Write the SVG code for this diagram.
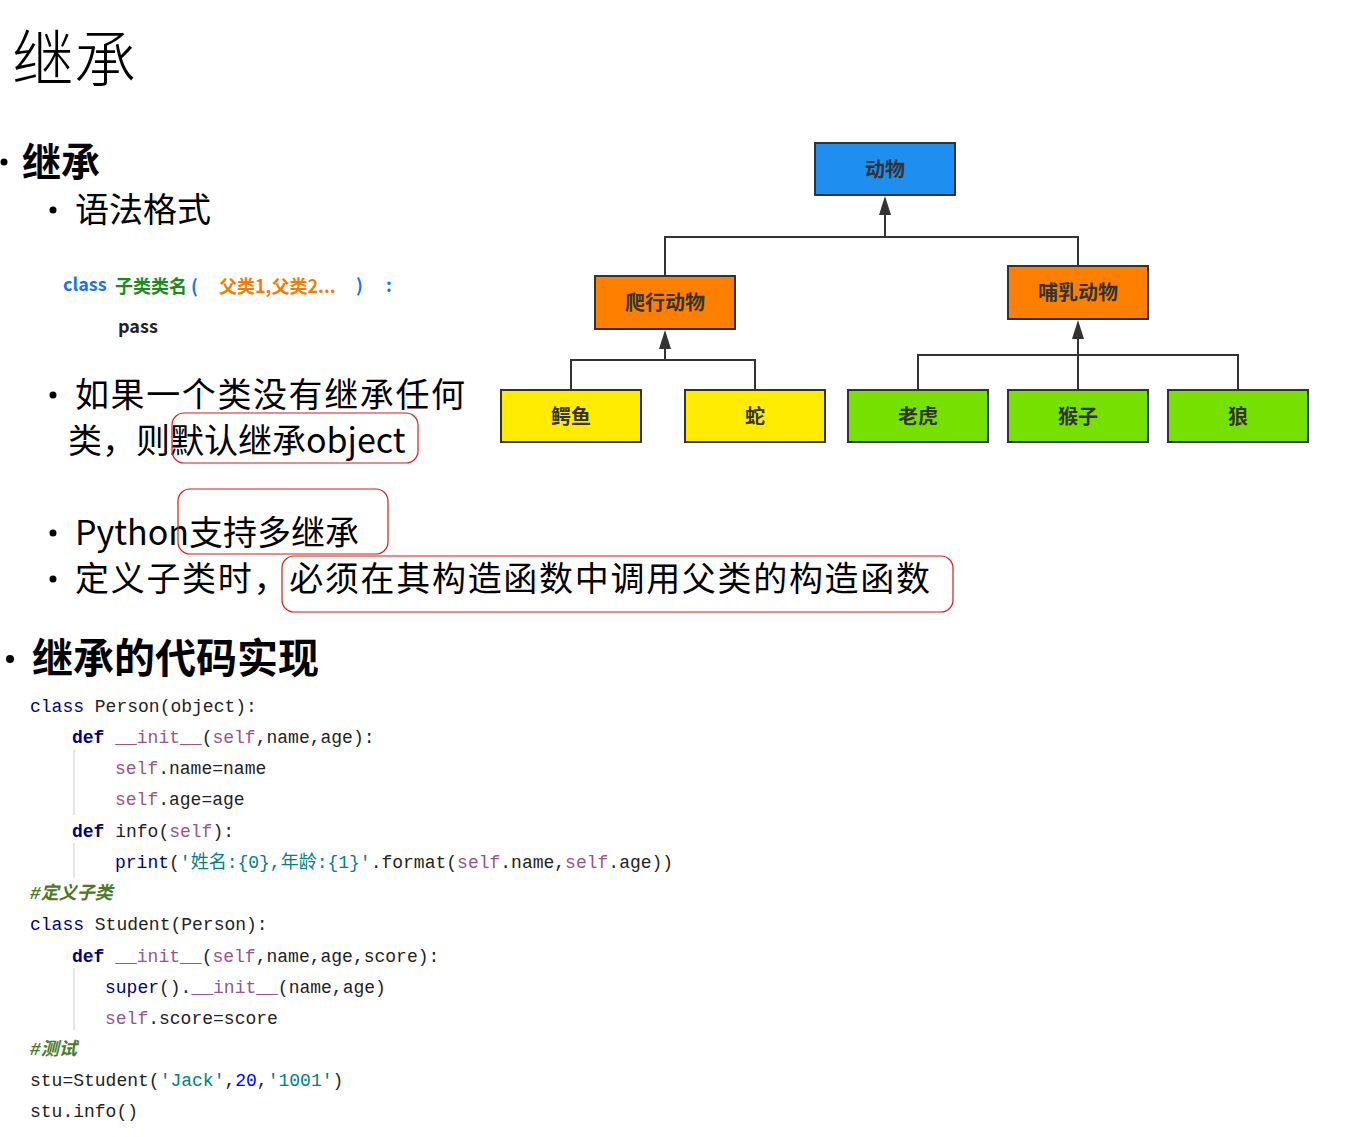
<svg xmlns="http://www.w3.org/2000/svg" width="1371" height="1137" viewBox="0 0 1371 1137">
<defs>
<style>
.t{font-family:"Noto Sans CJK SC","Noto Sans",sans-serif;fill:#000}
.b{stroke:#333;stroke-width:2}
.n{font-family:"Noto Sans CJK SC",sans-serif;font-size:20px;font-weight:bold;fill:#333;text-anchor:middle}
.c{font-family:"Liberation Mono","Noto Sans CJK SC",monospace;font-size:18px;fill:#222}
.kw{fill:#000080}
.sf{fill:#94558d}
.st{fill:#008080}
.cm{fill:#4a7a25;font-style:italic;font-weight:bold}
.ln{fill:none;stroke:#333;stroke-width:2}
.ah{fill:#333}
.red{fill:none;stroke:#d81b1b;stroke-width:1.2}
.gd{stroke:#ccc;stroke-width:1}
</style>
</defs>
<rect width="1371" height="1137" fill="#fff"/>
<text class="t" x="12" y="82" font-size="62" font-weight="300">继承</text>
<circle cx="4" cy="162" r="3.5" fill="#000"/>
<text class="t" x="22" y="176" font-size="39" font-weight="bold">继承</text>
<g fill="#000">
<circle cx="53" cy="210" r="3.5"/><circle cx="53" cy="395" r="3.5"/><circle cx="53" cy="533" r="3.5"/><circle cx="53" cy="579" r="3.5"/>
<circle cx="10" cy="659" r="4"/>
</g>
<g class="t" font-size="34">
<text x="75" y="222">语法格式</text>
<text x="75" y="407" textLength="390">如果一个类没有继承任何</text>
<text x="68" y="453">类，则默认继承object</text>
<text x="75" y="545">Python支持多继承</text>
<text x="75" y="591" textLength="855">定义子类时，必须在其构造函数中调用父类的构造函数</text>
</g>
<g font-family="Noto Sans CJK SC,sans-serif" font-weight="bold" font-size="18">
<text x="63" y="291" fill="#1a73e8">class</text>
<text x="115" y="293" fill="#1e8a1e">子类类名 <tspan fill="#1a73e8">(</tspan></text>
<text x="219" y="293" fill="#f57c00">父类1,父类2...</text>
<text x="356" y="292" fill="#1a73e8">)</text>
<text x="386" y="292" fill="#1a73e8">:</text>
<text x="118" y="333" fill="#222">pass</text>
</g>
<rect class="red" x="172" y="413" width="246" height="50" rx="12"/>
<rect class="red" x="178" y="489" width="210" height="65" rx="12"/>
<rect class="red" x="282" y="556" width="671" height="56" rx="12"/>
<text class="t" x="32" y="673" font-size="41" font-weight="bold">继承的代码实现</text>

<g id="connectors">
<path class="ln" d="M885,237 V210"/><polygon class="ah" points="885,196 879,215 891,215"/>
<path class="ln" d="M665,276 V237 H1078 V266"/>
<path class="ln" d="M665,360 V344"/><polygon class="ah" points="665,330 659,349 671,349"/>
<path class="ln" d="M571,390 V360 H755 V390"/>
<path class="ln" d="M1078,355 V334"/><polygon class="ah" points="1078,320 1072,339 1084,339"/>
<path class="ln" d="M918,390 V355 H1238 V390 M1078,355 V390"/>
</g>
<g id="n1"><rect class="b" x="815" y="143" width="140" height="52" fill="#1e8ff0"/><text class="n" x="885" y="177">动物</text></g>
<g id="n2"><rect class="b" x="595" y="276" width="140" height="53" fill="#ff7f00"/><text class="n" x="665" y="310">爬行动物</text></g>
<g id="n3"><rect class="b" x="1008" y="266" width="140" height="53" fill="#ff7f00"/><text class="n" x="1078" y="300">哺乳动物</text></g>
<g id="n4"><rect class="b" x="501" y="390" width="140" height="52" fill="#ffec00"/><text class="n" x="571" y="424">鳄鱼</text></g>
<g id="n5"><rect class="b" x="685" y="390" width="140" height="52" fill="#ffec00"/><text class="n" x="755" y="424">蛇</text></g>
<g id="n6"><rect class="b" x="848" y="390" width="140" height="52" fill="#76e000"/><text class="n" x="918" y="424">老虎</text></g>
<g id="n7"><rect class="b" x="1008" y="390" width="140" height="52" fill="#76e000"/><text class="n" x="1078" y="424">猴子</text></g>
<g id="n8"><rect class="b" x="1168" y="390" width="140" height="52" fill="#76e000"/><text class="n" x="1238" y="424">狼</text></g>

<g>
<line class="gd" x1="74" y1="750" x2="74" y2="815"/>
<line class="gd" x1="74" y1="843" x2="74" y2="878"/>
<line class="gd" x1="74" y1="968" x2="74" y2="1030"/>
<text class="c" x="30" y="712"><tspan class="kw">class</tspan> Person(object):</text>
<text class="c" x="72" y="743"><tspan class="kw" font-weight="bold">def</tspan> <tspan class="sf">__init__</tspan>(<tspan class="sf">self</tspan>,name,age):</text>
<text class="c" x="115" y="774"><tspan class="sf">self</tspan>.name=name</text>
<text class="c" x="115" y="805"><tspan class="sf">self</tspan>.age=age</text>
<text class="c" x="72" y="837"><tspan class="kw" font-weight="bold">def</tspan> info(<tspan class="sf">self</tspan>):</text>
<text class="c" x="115" y="868"><tspan class="kw">print</tspan>(<tspan class="st">'姓名:{0},年龄:{1}'</tspan>.format(<tspan class="sf">self</tspan>.name,<tspan class="sf">self</tspan>.age))</text>
<text class="c cm" x="30" y="899">#定义子类</text>
<text class="c" x="30" y="930"><tspan class="kw">class</tspan> Student(Person):</text>
<text class="c" x="72" y="962"><tspan class="kw" font-weight="bold">def</tspan> <tspan class="sf">__init__</tspan>(<tspan class="sf">self</tspan>,name,age,score):</text>
<text class="c" x="105" y="993"><tspan class="kw">super</tspan>().<tspan class="sf">__init__</tspan>(name,age)</text>
<text class="c" x="105" y="1024"><tspan class="sf">self</tspan>.score=score</text>
<text class="c cm" x="30" y="1055">#测试</text>
<text class="c" x="30" y="1086">stu=Student(<tspan class="st">'Jack'</tspan>,<tspan fill="#0000ff">20</tspan>,<tspan class="st">'1001'</tspan>)</text>
<text class="c" x="30" y="1117">stu.info()</text>
</g>
</svg>
